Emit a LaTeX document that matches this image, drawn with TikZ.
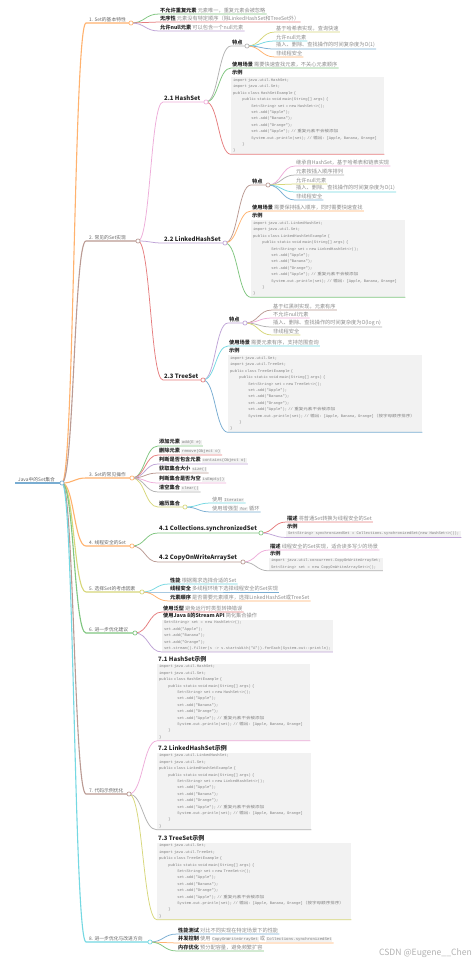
\documentclass[tikz,border=0pt]{standalone}
\usepackage{fontspec}
\setmainfont{Noto Sans CJK SC}
\setmonofont{Liberation Mono}
\newfontfamily\cjk[FakeStretch=1.2]{Noto Sans CJK SC}
\usetikzlibrary{calc}

\definecolor{mmblue}{HTML}{1F77B4}
\definecolor{mmorange}{HTML}{FF7F0E}
\definecolor{mmgreen}{HTML}{2CA02C}
\definecolor{mmred}{HTML}{D62728}
\definecolor{mmpurple}{HTML}{9467BD}
\definecolor{mmbrown}{HTML}{8C564B}
\definecolor{mmpink}{HTML}{E377C2}
\definecolor{mmgray}{HTML}{7F7F7F}
\definecolor{mmolive}{HTML}{BCBD22}
\definecolor{mmcyan}{HTML}{17BECF}

\newcommand\dtext[1]{\textcolor{black!45}{\mdseries #1}}
\newcommand\icode[1]{{\setlength{\fboxsep}{0.7pt}\colorbox{gray!10}{\fontsize{4}{5}\selectfont\ttfamily\textcolor{black!50}{#1}}}}
\newcommand\codeind{\hspace*{2.4em}}

% code blocks, reused in part 2 and part 7
\newcommand\codehash{import java.util.HashSet;\\
import java.util.Set;\\
public class HashSetExample \{\\
\codeind public static void main(String[] args) \{\\
\codeind\codeind Set<String> set = new HashSet<>();\\
\codeind\codeind set.add("Apple");\\
\codeind\codeind set.add("Banana");\\
\codeind\codeind set.add("Orange");\\
\codeind\codeind set.add("Apple"); // {\cjk 重复元素不会被添加}\\
\codeind\codeind System.out.println(set); // {\cjk 输出}: [Apple, Banana, Orange]\\
\codeind\}\\
\}}
\newcommand\codelinked{import java.util.LinkedHashSet;\\
import java.util.Set;\\
public class LinkedHashSetExample \{\\
\codeind public static void main(String[] args) \{\\
\codeind\codeind Set<String> set = new LinkedHashSet<>();\\
\codeind\codeind set.add("Apple");\\
\codeind\codeind set.add("Banana");\\
\codeind\codeind set.add("Orange");\\
\codeind\codeind set.add("Apple"); // {\cjk 重复元素不会被添加}\\
\codeind\codeind System.out.println(set); // {\cjk 输出}: [Apple, Banana, Orange]\\
\codeind\}\\
\}}
\newcommand\codetree{import java.util.Set;\\
import java.util.TreeSet;\\
public class TreeSetExample \{\\
\codeind public static void main(String[] args) \{\\
\codeind\codeind Set<String> set = new TreeSet<>();\\
\codeind\codeind set.add("Apple");\\
\codeind\codeind set.add("Banana");\\
\codeind\codeind set.add("Orange");\\
\codeind\codeind set.add("Apple"); // {\cjk 重复元素不会被添加}\\
\codeind\codeind System.out.println(set); // {\cjk 输出}: [Apple, Banana, Orange]{\cjk （按字母顺序排序）}\\
\codeind\}\\
\}}

\begin{document}
\begin{tikzpicture}
  [
    x = 1pt, y = -1pt,
    lvlone/.style = {anchor=south west,inner xsep=3pt,inner ysep=0.8pt,font=\fontsize{4.8}{5.5}\selectfont,text=black!60},
    headnode/.style = {anchor=south west,inner xsep=1pt,inner ysep=0.8pt,font=\fontsize{6}{7}\selectfont\bfseries,text=black!85},
    leafnode/.style = {anchor=south west,inner xsep=1pt,inner ysep=0.8pt,font=\fontsize{5.2}{6}\selectfont,text=black!85},
    plainnode/.style = {leafnode,text=black!45},
    codebox/.style = {anchor=north west,fill=gray!10,text=black!50,inner xsep=2pt,inner ysep=1.5pt,align=left,font=\fontsize{3.8}{6.4}\selectfont\ttfamily},
    knob/.style = {circle,draw=#1!65,fill=white,line width=0.6pt,inner sep=0pt,minimum size=4.2pt},
    lkone/.style = {draw=#1!60,line width=1.1pt},
    lk/.style = {draw=#1!60,line width=0.75pt},
  ]

  \fill[white] (0,0) rectangle (474,961);
  \useasboundingbox (0,0) rectangle (474,961);

  % root and the eight parts
  \node[lvlone] (root) at (15,483) {Java中的Set集合};
  \coordinate (croot) at (62,483);
  \node[lvlone] (n1) at (86,23)  {1. Set的基本特性};        \coordinate (cn1) at (131,23);
  \node[lvlone] (n2) at (86,241) {2. 常见的Set实现};        \coordinate (cn2) at (138,241);
  \node[lvlone] (n3) at (86,478) {3. Set的常见操作};        \coordinate (cn3) at (132,478);
  \node[lvlone] (n4) at (86,546) {4. 线程安全的Set};        \coordinate (cn4) at (132,546);
  \node[lvlone] (n5) at (86,592) {5. 选择Set的考虑因素};    \coordinate (cn5) at (142,592);
  \node[lvlone] (n6) at (86,633) {6. 进一步优化建议};       \coordinate (cn6) at (135,633);
  \node[lvlone] (n7) at (86,794) {7. 代码示例优化};         \coordinate (cn7) at (129,794);
  \node[lvlone] (n8) at (86,942) {8. 进一步优化与改进方向}; \coordinate (cn8) at (150,942);

  % part 1
  \node[leafnode] (a1) at (159,14) {\textbf{不允许重复元素}\ \dtext{元素唯一，重复元素会被忽略}};
  \node[leafnode] (a2) at (159,22) {\textbf{无序性}\ \dtext{元素没有特定顺序（除LinkedHashSet和TreeSet外）}};
  \node[leafnode] (a3) at (159,31) {\textbf{允许null元素}\ \dtext{可以包含一个null元素}};

  % part 2
  \node[headnode] (n21) at (163,102) {2.1 HashSet};        \coordinate (cn21) at (206,102);
  \node[leafnode] (n21a) at (231,46) {\textbf{特点}};      \coordinate (cn21a) at (247,46);
  \node[plainnode] (b1) at (275,32) {基于哈希表实现，查询快速};
  \node[plainnode] (b2) at (275,41) {允许null元素};
  \node[plainnode] (b3) at (275,49) {插入、删除、查找操作的时间复杂度为O(1)};
  \node[plainnode] (b4) at (275,57) {非线程安全};
  \node[leafnode] (n21b) at (231,68) {\textbf{使用场景}\ \dtext{需要快速查找元素，不关心元素顺序}};
  \node[leafnode] (n21c) at (231,76) {\textbf{示例}};
  \node[codebox,text width=149pt] (k21) at ([yshift=-1pt]n21c.south west) {\codehash};

  \node[headnode] (n22) at (163,243) {2.2 LinkedHashSet};  \coordinate (cn22) at (225,243);
  \node[leafnode] (n22a) at (251,185) {\textbf{特点}};     \coordinate (cn22a) at (268,185);
  \node[plainnode] (c1) at (295,166) {继承自HashSet，基于哈希表和链表实现};
  \node[plainnode] (c2) at (295,175) {元素按插入顺序排列};
  \node[plainnode] (c3) at (295,184) {允许null元素};
  \node[plainnode] (c4) at (295,192) {插入、删除、查找操作的时间复杂度为O(1)};
  \node[plainnode] (c5) at (295,200) {非线程安全};
  \node[leafnode] (n22b) at (251,211) {\textbf{使用场景}\ \dtext{需要保持插入顺序，同时需要快速查找}};
  \node[leafnode] (n22c) at (251,219) {\textbf{示例}};
  \node[codebox,text width=150pt] (k22) at ([yshift=-1pt]n22c.south west) {\codelinked};

  \node[headnode] (n23) at (163,380) {2.3 TreeSet};        \coordinate (cn23) at (203,380);
  \node[leafnode] (n23a) at (228,323) {\textbf{特点}};     \coordinate (cn23a) at (245,323);
  \node[plainnode] (d1) at (272,310) {基于红黑树实现，元素有序};
  \node[plainnode] (d2) at (272,318) {不允许null元素};
  \node[plainnode] (d3) at (272,327) {插入、删除、查找操作的时间复杂度为O(log n)};
  \node[plainnode] (d4) at (272,335) {非线程安全};
  \node[leafnode] (n23b) at (228,346) {\textbf{使用场景}\ \dtext{需要元素有序，支持范围查询}};
  \node[leafnode] (n23c) at (228,354) {\textbf{示例}};
  \node[codebox,text width=190pt] (k23) at ([yshift=-1pt]n23c.south west) {\codetree};

  % part 3
  \node[leafnode] (s1) at (158,446) {\textbf{添加元素}\ \icode{add(E e)}};
  \node[leafnode] (s2) at (158,455) {\textbf{删除元素}\ \icode{remove(Object o)}};
  \node[leafnode] (s3) at (158,464) {\textbf{判断是否包含元素}\ \icode{contains(Object o)}};
  \node[leafnode] (s4) at (158,473) {\textbf{获取集合大小}\ \icode{size()}};
  \node[leafnode] (s5) at (158,483) {\textbf{判断集合是否为空}\ \icode{isEmpty()}};
  \node[leafnode] (s6) at (158,492) {\textbf{清空集合}\ \icode{clear()}};
  \node[leafnode] (n3g) at (158,507) {\textbf{遍历集合}};     \coordinate (cn3g) at (185,507);
  \node[plainnode] (t1) at (211,503) {使用 \icode{Iterator}};
  \node[plainnode] (t2) at (211,512) {使用增强型 \icode{for} 循环};

  % part 4
  \node[headnode] (n41) at (158,533) {4.1 Collections.synchronizedSet}; \coordinate (cn41) at (261,533);
  \node[leafnode] (n41a) at (286,522) {\textbf{描述}\ \dtext{将普通Set转换为线程安全的Set}};
  \node[leafnode] (n41b) at (286,530) {\textbf{示例}};
  \node[codebox] (k41) at ([yshift=-0.5pt]n41b.south west) {Set<String> synchronizedSet = Collections.synchronizedSet(new HashSet<>());};
  \node[headnode] (n42) at (158,562) {4.2 CopyOnWriteArraySet};       \coordinate (cn42) at (243,562);
  \node[leafnode] (n42a) at (269,550) {\textbf{描述}\ \dtext{线程安全的Set实现，适合读多写少的场景}};
  \node[leafnode] (n42b) at (269,557) {\textbf{示例}};
  \node[codebox] (k42) at ([yshift=-0.5pt]n42b.south west) {import java.util.concurrent.CopyOnWriteArraySet;\\ Set<String> set = new CopyOnWriteArraySet<>();};

  % part 5
  \node[leafnode] (e1) at (169,584) {\textbf{性能}\ \dtext{根据需求选择合适的Set}};
  \node[leafnode] (e2) at (169,592) {\textbf{线程安全}\ \dtext{多线程环境下选择线程安全的Set实现}};
  \node[leafnode] (e3) at (169,601) {\textbf{元素顺序}\ \dtext{是否需要元素顺序，选择LinkedHashSet或TreeSet}};

  % part 6
  \node[leafnode] (f1) at (162,612) {\textbf{使用泛型}\ \dtext{避免运行时类型转换错误}};
  \node[leafnode] (f2) at (162,619) {\textbf{使用Java 8的Stream API}\ \dtext{简化集合操作}};
  \node[codebox] (k6) at ([yshift=-0.5pt]f2.south west) {Set<String> set = new HashSet<>();\\ set.add("Apple");\\ set.add("Banana");\\ set.add("Orange");\\ set.stream().filter(s -> s.startsWith("A")).forEach(System.out::println);};

  % part 7
  \node[headnode] (g1) at (157,663) {7.1 HashSet示例};
  \node[codebox,text width=149pt] (k71) at ([yshift=-0.5pt]g1.south west) {\codehash};
  \node[headnode] (g2) at (157,752) {7.2 LinkedHashSet示例};
  \node[codebox,text width=150pt] (k72) at ([yshift=-0.5pt]g2.south west) {\codelinked};
  \node[headnode] (g3) at (157,842) {7.3 TreeSet示例};
  \node[codebox,text width=190pt] (k73) at ([yshift=-0.5pt]g3.south west) {\codetree};

  % part 8
  \node[leafnode] (h1) at (177,934) {\textbf{性能测试}\ \dtext{对比不同实现在特定场景下的性能}};
  \node[leafnode] (h2) at (177,943) {\textbf{并发控制}\ \dtext{使用 \icode{CopyOnWriteArraySet} 或 \icode{Collections.synchronizedSet}}};
  \node[leafnode] (h3) at (177,951) {\textbf{内存优化}\ \dtext{预分配容量，避免频繁扩容}};

  \node[anchor=south east,inner sep=0pt,font=\fontsize{8.6}{9}\selectfont,text=black!30] (mark) at (472,958) {CSDN @Eugene\_\_Chen};

  % links
  \draw[lkone=mmblue] (root.south west) -- (croot);
  \foreach \b/\c in {n1/mmorange,n2/mmbrown,n3/mmorange,n4/mmorange,n5/mmolive,n6/mmgreen,n7/mmbrown,n8/mmcyan}
    \draw[lkone=\c] let \p1=(croot), \p2=(\b.south west) in
      (\p1) .. controls ({(\x1+\x2)/2},\y1) and ({(\x1+\x2)/2},\y2) .. (\p2) -- (c\b);
  \foreach \a/\b/\c in {n2/n21/mmpink,n21/n21a/mmgray,n2/n22/mmpurple,n22/n22a/mmbrown,n2/n23/mmred,
                        n23/n23a/mmpurple,n3/n3g/mmolive,n4/n41/mmgreen,n4/n42/mmbrown}
    \draw[lk=\c] let \p1=(c\a), \p2=(\b.south west) in
      (\p1) .. controls ({(\x1+\x2)/2},\y1) and ({(\x1+\x2)/2},\y2) .. (\p2) -- (c\b);
  \foreach \a/\b/\c in {n1/a1/mmgreen,n1/a2/mmred,n1/a3/mmpurple,
                        n21a/b1/mmolive,n21a/b2/mmcyan,n21a/b3/mmblue,n21a/b4/mmorange,n21/n21b/mmgreen,n21/k21/mmred,
                        n22a/c1/mmpink,n22a/c2/mmgray,n22a/c3/mmolive,n22a/c4/mmcyan,n22a/c5/mmblue,n22/n22b/mmorange,n22/k22/mmgreen,
                        n23a/d1/mmbrown,n23a/d2/mmpink,n23a/d3/mmgray,n23a/d4/mmolive,n23/n23b/mmcyan,n23/k23/mmblue,
                        n3/s1/mmgreen,n3/s2/mmred,n3/s3/mmpurple,n3/s4/mmbrown,n3/s5/mmpink,n3/s6/mmgray,n3g/t1/mmcyan,n3g/t2/mmblue,
                        n41/n41a/mmred,n41/k41/mmpurple,n42/n42a/mmpink,n42/k42/mmgray,
                        n5/e1/mmcyan,n5/e2/mmblue,n5/e3/mmorange,n6/f1/mmred,n6/k6/mmpurple,
                        n7/k71/mmpink,n7/k72/mmgray,n7/k73/mmolive,n8/h1/mmblue,n8/h2/mmorange,n8/h3/mmgreen}
    \draw[lk=\c] let \p1=(c\a), \p2=(\b.south west) in
      (\p1) .. controls ({(\x1+\x2)/2},\y1) and ({(\x1+\x2)/2},\y2) .. (\p2) -- (\b.south east);

  % joints
  \foreach \n/\c in {root/mmblue,n1/mmorange,n2/mmbrown,n21/mmpink,n21a/mmgray,n22/mmpurple,n22a/mmbrown,
                     n23/mmred,n23a/mmpurple,n3/mmorange,n3g/mmolive,n4/mmorange,n41/mmgreen,n42/mmbrown,
                     n5/mmolive,n6/mmgreen,n7/mmbrown,n8/mmcyan}
    \node[knob=\c] (d\n) at (c\n) {};

\end{tikzpicture}
\end{document}
